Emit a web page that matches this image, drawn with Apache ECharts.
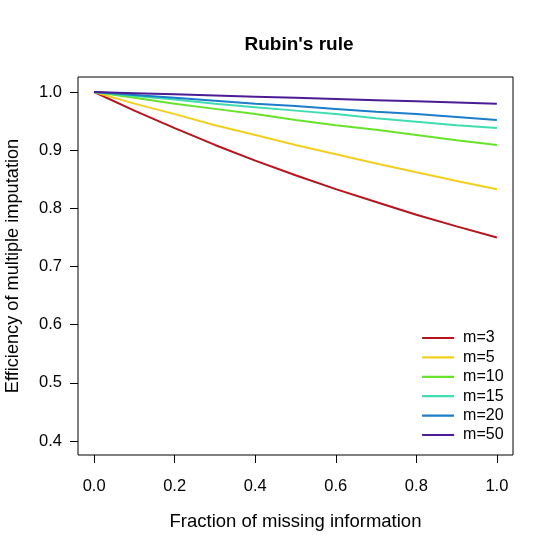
<!DOCTYPE html>
<html>
<head>
<meta charset="utf-8">
<script src="https://cdn.jsdelivr.net/npm/echarts@6/dist/echarts.min.js"></script>
<style>
	html, body { margin: 0; padding: 0; background: #fff; }
	#main { width: 553px; height: 552px; }
</style>
</head>
<body>
<div id="main"></div>
<script>
// fraction of missing information (x)
var gammaVals = [0, 0.1, 0.2, 0.3, 0.4, 0.5, 0.6, 0.7, 0.8, 0.9, 1.0];
// efficiency, one array per m
var effM3  = [1, 0.968, 0.938, 0.909, 0.882, 0.857, 0.833, 0.811, 0.789, 0.769, 0.750];
var effM5  = [1, 0.980, 0.962, 0.943, 0.926, 0.909, 0.893, 0.877, 0.862, 0.847, 0.833];
var effM10 = [1, 0.990, 0.980, 0.971, 0.962, 0.952, 0.943, 0.935, 0.926, 0.917, 0.909];
var effM15 = [1, 0.993, 0.987, 0.980, 0.974, 0.968, 0.962, 0.955, 0.949, 0.943, 0.938];
var effM20 = [1, 0.995, 0.990, 0.985, 0.980, 0.976, 0.971, 0.966, 0.962, 0.957, 0.952];
var effM50 = [1, 0.998, 0.996, 0.994, 0.992, 0.990, 0.988, 0.986, 0.984, 0.982, 0.980];
var seriesNames = ['m=3', 'm=5', 'm=10', 'm=15', 'm=20', 'm=50'];
var seriesColors = ['#B8131C', '#F2CF1F', '#67E32B', '#3FDDB0', '#1C7DC9', '#4B1C94'];
// tick labels
var xTicks = [0, 0.2, 0.4, 0.6, 0.8, 1.0];
var yTicks = [0.4, 0.5, 0.6, 0.7, 0.8, 0.9, 1.0];

var allEff = [effM3, effM5, effM10, effM15, effM20, effM50];

var myChart = echarts.init(document.getElementById('main'));

var series = [];
for (var i = 0; i < allEff.length; i++) {
	var pts = [];
	for (var j = 0; j < gammaVals.length; j++) {
		pts.push([gammaVals[j], allEff[i][j]]);
	}
	series.push({
		name: seriesNames[i],
		type: 'line',
		data: pts,
		symbol: 'none',
		smooth: false,
		color: seriesColors[i],
		lineStyle: { width: 2, color: seriesColors[i] },
		animation: false
	});
}

var fontFam = '"Liberation Sans", Arial, sans-serif';

var option = {
	backgroundColor: '#fff',
	animation: false,
	title: {
		text: "Rubin's rule",
		left: 294,
		textAlign: 'center',
		top: 30,
		textStyle: { fontFamily: fontFam, fontSize: 19, fontWeight: 'bold', color: '#000' }
	},
	grid: {
		left: 78,
		right: 40,
		top: 77,
		bottom: 97,
		outerBoundsMode: 'none', // 不让grid自动缩进
		containLabel: false,
		show: true,
		borderColor: '#000',
		borderWidth: 1,
		backgroundColor: 'transparent'
	},
	legend: {
		orient: 'vertical',
		left: 421,
		top: 330,
		padding: 0,
		itemWidth: 32,
		itemHeight: 14,
		itemGap: 3.4,
		data: seriesNames,
		itemStyle: { opacity: 0 }, // 只要线，不要圆点
		lineStyle: { width: 2.2 },
		textStyle: { fontFamily: fontFam, fontSize: 16, color: '#000', padding: [0, 0, 0, 4] }
	},
	xAxis: {
		type: 'value',
		min: -0.04,
		max: 1.04,
		name: 'Fraction of missing information',
		nameLocation: 'middle',
		nameGap: 57,
		nameTextStyle: { fontFamily: fontFam, fontSize: 18.5, color: '#000' },
		axisLine: { show: false, onZero: false },
		splitLine: { show: false },
		axisTick: {
			show: true,
			inside: false,
			length: 8,
			customValues: xTicks,
			lineStyle: { color: '#000', width: 1 }
		},
		axisLabel: {
			show: true,
			margin: 23,
			customValues: xTicks,
			fontFamily: fontFam,
			fontSize: 16.5,
			color: '#000',
			formatter: function (v) { return v.toFixed(1); }
		}
	},
	yAxis: {
		type: 'value',
		min: 0.376,
		max: 1.0258,
		name: 'Efficiency of multiple imputation',
		nameLocation: 'middle',
		nameGap: 56,
		nameTextStyle: { fontFamily: fontFam, fontSize: 18.2, color: '#000' },
		axisLine: { show: false, onZero: false },
		splitLine: { show: false },
		axisTick: {
			show: true,
			inside: false,
			length: 8,
			customValues: yTicks,
			lineStyle: { color: '#000', width: 1 }
		},
		axisLabel: {
			show: true,
			margin: 16,
			customValues: yTicks,
			fontFamily: fontFam,
			fontSize: 16.5,
			color: '#000',
			formatter: function (v) { return v.toFixed(1); }
		}
	},
	series: series
};

myChart.setOption(option);
</script>
</body>
</html>
